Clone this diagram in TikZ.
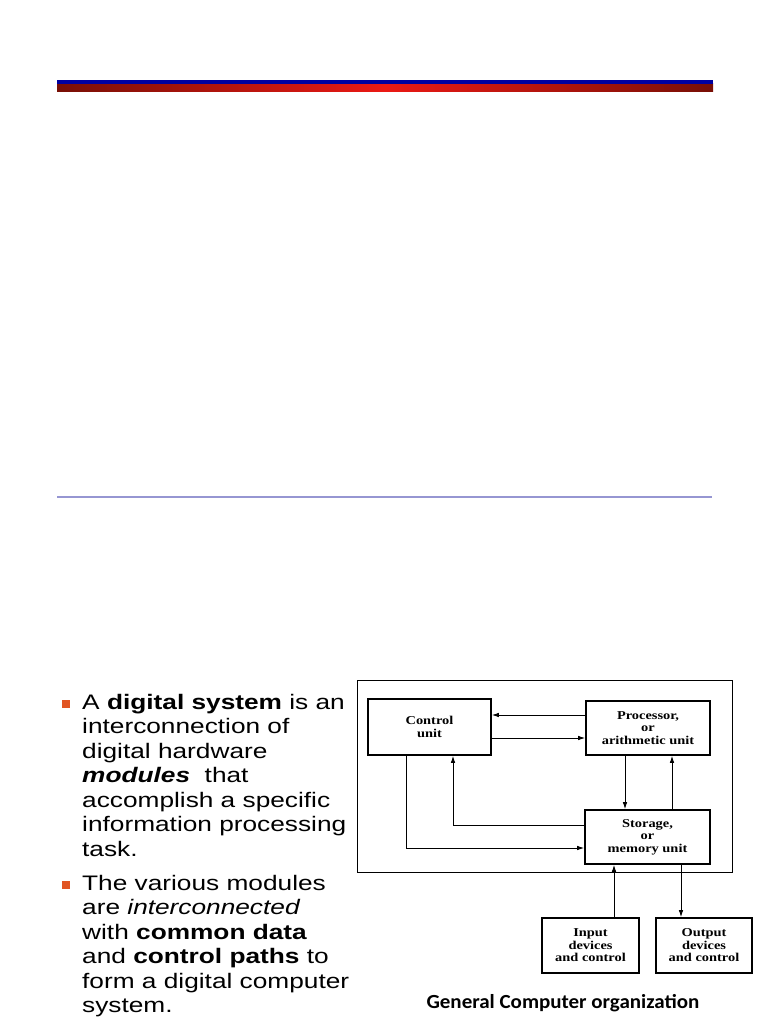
\documentclass[tikz,border=0pt]{standalone}
\usepackage{fontspec}
\setmainfont{Liberation Sans}[FakeStretch=1.25]
\newfontfamily\diag{Liberation Serif}[FakeStretch=1.2]
\newfontfamily\capf{Carlito}[FakeStretch=1.05]
\usetikzlibrary{arrows.meta}
\definecolor{barblue}{RGB}{0,0,160}
\definecolor{bardark}{RGB}{120,15,5}
\definecolor{barred}{RGB}{235,25,20}
\definecolor{rulec}{RGB}{150,150,210}
\definecolor{bulc}{RGB}{225,85,35}
\tikzset{
  blk/.style={draw,line width=1.6pt,inner sep=0pt,align=center,font=\diag\bfseries\fontsize{12}{12.5}\selectfont},
  conn/.style={line width=0.9pt,-{Latex[length=7pt,width=4.5pt]}},
  txt/.style={anchor=base west,inner sep=0pt,font=\fontsize{21}{24}\selectfont},
  bul/.style={fill=bulc,minimum size=8pt,inner sep=0pt}
}
\begin{document}
\begin{tikzpicture}[x=1pt,y=-1pt]
\useasboundingbox (0,0) rectangle (768,1024);
\shade[left color=bardark,right color=barred] (57,84) rectangle (385,92);
\shade[left color=barred,right color=bardark] (385,84) rectangle (713,92);
\fill[barblue] (57,80) rectangle (713,84);
\draw[rulec,line width=1.2pt] (57,497) -- (712,497);
\node[bul] (b1) at (66,704) {};
\node[txt] (t1) at (82,709) {A \textbf{digital system} is an};
\node[txt] (t2) at (82,733.5) {interconnection of};
\node[txt] (t3) at (82,758) {digital hardware};
\node[txt] (t4) at (82,782.5) {\textbf{\textit{modules}} \ that};
\node[txt] (t5) at (82,807) {accomplish a specific};
\node[txt] (t6) at (82,831.5) {information processing};
\node[txt] (t7) at (82,856) {task.};
\node[bul] (b2) at (66,885) {};
\node[txt] (t8) at (82,890) {The various modules};
\node[txt] (t9) at (82,914.5) {are \textit{interconnected}};
\node[txt] (t10) at (82,939) {with \textbf{common data}};
\node[txt] (t11) at (82,963.5) {and \textbf{control paths} to};
\node[txt] (t12) at (82,988) {form a digital computer};
\node[txt] (t13) at (82,1012.5) {system.};
\node[draw,line width=0.8pt,minimum width=375pt,minimum height=192pt] (outer) at (544.5,776) {};
\node[blk,minimum width=123pt,minimum height=56pt] (cu) at (429.5,727) {Control\\unit};
\node[blk,minimum width=124pt,minimum height=54pt] (pu) at (648,728) {Processor,\\or\\arithmetic unit};
\node[blk,minimum width=125pt,minimum height=54pt] (su) at (647.5,837) {Storage,\\or\\memory unit};
\node[blk,minimum width=97pt,minimum height=55pt] (in) at (590.5,945.5) {Input\\devices\\and control};
\node[blk,minimum width=96pt,minimum height=55pt] (out) at (704,945.5) {Output\\devices\\and control};
\draw[conn] (pu.west |- 0,715) -- (cu.east |- 0,715);
\draw[conn] (cu.east |- 0,738) -- (pu.west |- 0,738);
\draw[conn] (pu.south -| 625,0) -- (su.north -| 625,0);
\draw[conn] (su.north -| 672,0) -- (pu.south -| 672,0);
\coordinate (c1) at (453,825);
\draw[conn] (su.west |- c1) -- (c1) -- (cu.south -| c1);
\coordinate (c2) at (406,848);
\draw[conn] (cu.south -| c2) -- (c2) -- (su.west |- c2);
\draw[conn] (in.north -| 614,0) -- (su.south -| 614,0);
\draw[conn] (su.south -| 681,0) -- (out.north -| 681,0);
\node[font=\capf\bfseries\fontsize{20}{22}\selectfont] (cap) at (563,1003) {General Computer organization};
\end{tikzpicture}
\end{document}
